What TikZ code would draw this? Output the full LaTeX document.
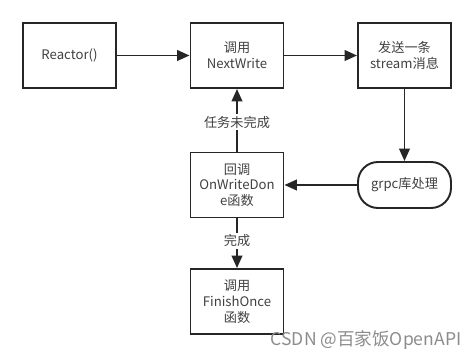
\documentclass[tikz,border=0pt]{standalone}
\usepackage{fontspec}
\setmainfont{Noto Sans CJK SC}
\usetikzlibrary{arrows.meta}
\tikzset{
  box/.style={draw=black!85,line width=1.1pt,minimum width=1.86cm,minimum height=1.3cm,align=center,inner sep=1pt,font=\fontsize{7.5}{9}\selectfont,text=black!75},
  roundbox/.style={box,minimum height=0.92cm,rounded corners=0.4cm},
  flow/.style={draw=black!85,line width=1.1pt,-{Triangle[length=7pt,width=6pt]}},
  lbl/.style={fill=white,inner sep=1pt,font=\fontsize{7.5}{9}\selectfont,text=black!75}
}
\begin{document}
\begin{tikzpicture}[x=0.02cm,y=-0.02cm]
\useasboundingbox (0,0) rectangle (474,358);
\node[box] (reactor) at (69.5,55.5) {Reactor()};
\node[box] (nextwrite) at (237,55.5) {调用\\NextWrite};
\node[box] (send) at (404.5,55.5) {发送一条\\stream消息};
\node[roundbox] (grpc) at (404.5,185) {grpc库处理};
\node[box] (onwrite) at (237,185) {回调\\OnWriteDon\\e函数};
\node[box] (finish) at (237,301.5) {调用\\FinishOnce\\函数};
\draw[flow] (reactor) -- (nextwrite);
\draw[flow] (nextwrite) -- (send);
\draw[flow] (send) -- (grpc);
\draw[flow] (grpc) -- (onwrite);
\draw[flow] (onwrite) -- (nextwrite) node[lbl,pos=0.47]{任务未完成};
\draw[flow] (onwrite) -- (finish) node[lbl,pos=0.45]{完成};
\node[font=\fontsize{10}{12}\selectfont,text=black!45] (mark) at (366,340) {CSDN @百家饭OpenAPI};
\end{tikzpicture}
\end{document}
